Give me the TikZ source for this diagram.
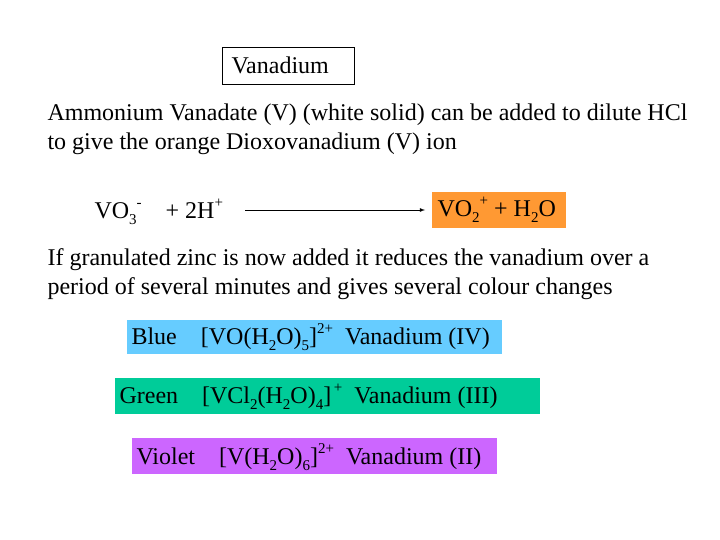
\documentclass[tikz,border=0pt]{standalone}
\usepackage{fontspec}
\setmainfont{Liberation Serif}
\definecolor{orng}{HTML}{FF9933}
\definecolor{bl}{HTML}{66CCFF}
\definecolor{gr}{HTML}{00CC99}
\definecolor{vi}{HTML}{CC66FF}
\newcommand{\sbs}[1]{\raisebox{-0.25em}{\fontsize{15}{15}\selectfont #1}}
\newcommand{\sps}[1]{\raisebox{0.45em}{\fontsize{15}{15}\selectfont #1}}
\begin{document}
\begin{tikzpicture}[x=1pt,y=-1pt,font=\fontsize{24}{29}\selectfont,
  bx/.style={anchor=north west,inner sep=0pt,minimum height=36pt}]
\useasboundingbox[fill=white] (0,0) rectangle (720,540);
\node[draw,bx,minimum width=132pt,minimum height=37pt] (van) at (222,47) {};
\node[anchor=west] (vt) at (228,65.5) {Vanadium};
\node[anchor=west,align=left] (p1) at (44,129) {Ammonium Vanadate (V) (white solid) can be added to dilute HCl\\to give the orange Dioxovanadium (V) ion};
\node[anchor=west] (lhs) at (91,212) {VO\sbs{3}\sps{-}\quad + 2H\sps{+}};
\node[bx,fill=orng,minimum width=134pt] (rhs) at (432,192) {};
\node[anchor=west] (rt) at (434,210) {VO\sbs{2}\sps{+} + H\sbs{2}O};
\coordinate (a1) at (245,210);
\coordinate (a2) at (425,210);
\draw[-latex,line width=0.8pt] (a1) -- (a2);
\node[anchor=west,align=left] (p2) at (44,274) {If granulated zinc is now added it reduces the vanadium over a\\period of several minutes and gives several colour changes};
\node[bx,fill=bl,minimum width=375pt,minimum height=34pt] (b) at (127,320) {};
\node[anchor=west] (bt) at (128,337) {Blue\quad[VO(H\sbs{2}O)\sbs{5}]\sps{2+}\ \ Vanadium (IV)};
\node[bx,fill=gr,minimum width=425pt] (g) at (115,378) {};
\node[anchor=west] (gt) at (116,397) {Green\quad[VCl\sbs{2}(H\sbs{2}O)\sbs{4}]\sps{\,+}\ \ Vanadium (III)};
\node[bx,fill=vi,minimum width=365pt] (v) at (132,438) {};
\node[anchor=west] (vt2) at (133,457) {Violet\quad[V(H\sbs{2}O)\sbs{6}]\sps{2+}\ \ Vanadium (II)};
\end{tikzpicture}
\end{document}
